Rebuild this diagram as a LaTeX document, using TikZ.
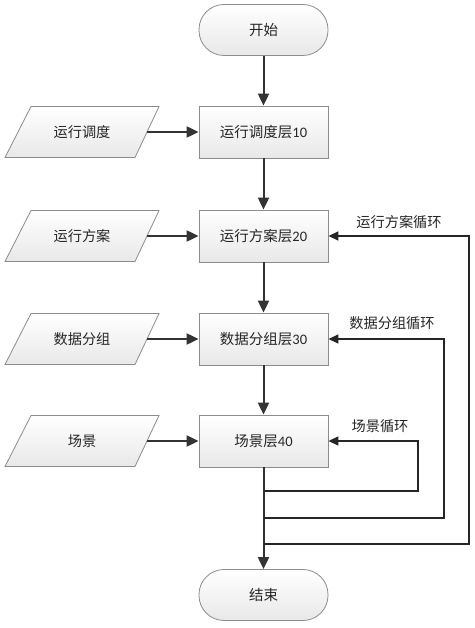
\documentclass[tikz,border=0pt]{standalone}
\usepackage{fontspec}
\setmainfont{Carlito}
\newfontfamily\cjk{Noto Sans CJK SC}
\usetikzlibrary{arrows.meta}
\definecolor{edgegray}{HTML}{8C8C8C}
\definecolor{txt}{HTML}{262626}
\definecolor{linec}{HTML}{333333}
\begin{document}
\begin{tikzpicture}[x=1pt,y=-1pt,
  boxst/.style={draw=edgegray,line width=0.8pt,top color=white,bottom color=gray!18,minimum width=129pt,minimum height=52pt,inner sep=0pt,font=\fontsize{14.5}{16}\selectfont,text=txt},
  termst/.style={boxst,rounded corners=25pt,minimum height=51pt},
  para/.style={draw=edgegray,line width=0.8pt,top color=white,bottom color=gray!18},
  ptext/.style={font=\cjk\fontsize{14.2}{16}\selectfont,text=txt},
  mainarrow/.style={draw=linec,line width=2pt,-{Triangle[length=12pt,width=11pt]}},
  looparrow/.style={draw=black!85,line width=1.4pt,-{Triangle[length=10pt,width=9pt]}},
  lbl/.style={font=\cjk\fontsize{14.2}{16}\selectfont,text=txt}]
\useasboundingbox (0,0) rectangle (474,628);
% terminals and boxes
\node[termst] (start) at (263.5,30) {\cjk 开始};
\node[boxst] (b1) at (263.5,132) {{\cjk 运行调度层}10};
\node[boxst] (b2) at (263.5,236) {{\cjk 运行方案层}20};
\node[boxst] (b3) at (263.5,339) {{\cjk 数据分组层}30};
\node[boxst] (b4) at (263.5,441) {{\cjk 场景层}40};
\node[termst] (end) at (263.5,595) {\cjk 结束};
% parallelograms
\foreach \y/\t/\n in {132/运行调度/p1,236/运行方案/p2,339/数据分组/p3,441/场景/p4}{
  \path[para] (31,\y-25.5) -- (159,\y-25.5) -- (135,\y+25.5) -- (5,\y+25.5) -- cycle;
  \node[ptext] (\n) at (82,\y) {\t};
  \coordinate (\n e) at (147,\y);
}
% main arrows
\draw[mainarrow] (start) -- (b1);
\draw[mainarrow] (b1) -- (b2);
\draw[mainarrow] (b2) -- (b3);
\draw[mainarrow] (b3) -- (b4);
\draw[mainarrow] (b4) -- (end);
\foreach \n/\b in {p1/b1,p2/b2,p3/b3,p4/b4}
  \draw[mainarrow] (\n e) -- (\b);
% loops
\coordinate (j4) at (264,491);
\coordinate (j3) at (264,518);
\coordinate (j2) at (264,544);
\coordinate (c4) at (418,491);
\coordinate (c3) at (444,518);
\coordinate (c2) at (469,544);
\draw[looparrow] (j4) -- (c4) |- (b4.east);
\draw[looparrow] (j3) -- (c3) |- (b3.east);
\draw[looparrow] (j2) -- (c2) |- (b2.east);
% loop labels
\node[lbl] (l2) at (399,222) {运行方案循环};
\node[lbl] (l3) at (392,323) {数据分组循环};
\node[lbl] (l4) at (380,426) {场景循环};
\end{tikzpicture}
\end{document}
